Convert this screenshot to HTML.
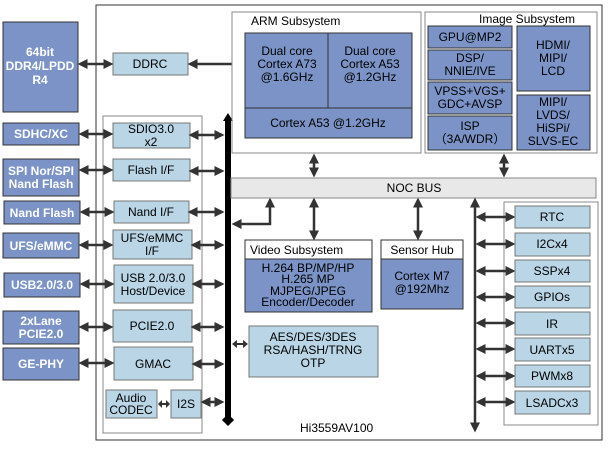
<!DOCTYPE html>
<html><head><meta charset="utf-8"><style>
body{margin:0;background:#fff}
svg{display:block}
text{font-family:"Liberation Sans",sans-serif;font-size:12px;fill:#000}
.w{fill:#fff;font-weight:bold;font-size:12px}
.d{fill:#7b93c6;stroke:#333;stroke-width:1}
.l{fill:#b9d5e6;stroke:#777;stroke-width:1}
.g{fill:none;stroke:#888;stroke-width:1}
.a{stroke:#333;stroke-width:2.5;fill:none}
</style></head><body>
<svg width="612" height="459" viewBox="0 0 612 459">
<defs>
<marker id="m" markerWidth="4" markerHeight="4" refX="3" refY="2" orient="auto-start-reverse" markerUnits="strokeWidth"><path d="M0,0 L4,2 L0,4 Z" fill="#333"/></marker>
</defs>
<rect x="96" y="5" width="506" height="435" fill="none" stroke="#333"/>
<rect class="d" x="3" y="22" width="75" height="90"/>
<text class="w" x="40" y="56" text-anchor="middle">64bit</text>
<text class="w" x="40" y="70" text-anchor="middle">DDR4/LPDD</text>
<text class="w" x="40" y="84" text-anchor="middle">R4</text>
<rect class="d" x="3" y="123" width="76" height="22"/><text class="w" x="41" y="138" text-anchor="middle">SDHC/XC</text>
<rect class="d" x="3" y="159" width="76" height="37"/><text class="w" x="41" y="175" text-anchor="middle">SPI Nor/SPI</text><text class="w" x="41" y="188" text-anchor="middle">Nand Flash</text>
<rect class="d" x="4" y="201" width="76" height="23"/><text class="w" x="42" y="217" text-anchor="middle">Nand Flash</text>
<rect class="d" x="3" y="233" width="76" height="25"/><text class="w" x="41" y="250" text-anchor="middle">UFS/eMMC</text>
<rect class="d" x="4" y="273" width="76" height="24"/><text class="w" x="42" y="289" text-anchor="middle">USB2.0/3.0</text>
<rect class="d" x="3" y="311" width="76" height="33"/><text class="w" x="41" y="325" text-anchor="middle">2xLane</text><text class="w" x="41" y="338" text-anchor="middle">PCIE2.0</text>
<rect class="d" x="3" y="348" width="76" height="32"/><text class="w" x="41" y="368" text-anchor="middle">GE-PHY</text>
<rect class="l" x="113" y="53" width="75" height="22"/><text x="150" y="68" text-anchor="middle">DDRC</text>
<rect class="g" x="103" y="116" width="99" height="317"/>
<rect class="l" x="113" y="123" width="77" height="25"/><text x="151" y="133" text-anchor="middle">SDIO3.0</text><text x="151" y="146" text-anchor="middle">x2</text>
<rect class="l" x="113" y="159" width="77" height="22"/><text x="151" y="174" text-anchor="middle">Flash I/F</text>
<rect class="l" x="114" y="201" width="75" height="22"/><text x="151" y="216" text-anchor="middle">Nand I/F</text>
<rect class="l" x="113" y="230" width="79" height="29"/><text x="152" y="242" text-anchor="middle">UFS/eMMC</text><text x="152" y="255" text-anchor="middle">I/F</text>
<rect class="l" x="114" y="265" width="79" height="38"/><text x="153" y="282" text-anchor="middle">USB 2.0/3.0</text><text x="153" y="295" text-anchor="middle">Host/Device</text>
<rect class="l" x="113" y="310" width="79" height="32"/><text x="152" y="330" text-anchor="middle">PCIE2.0</text>
<rect class="l" x="114" y="347" width="79" height="33"/><text x="153" y="368" text-anchor="middle">GMAC</text>
<rect class="l" x="106" y="390" width="51" height="28"/><text x="131" y="402" text-anchor="middle" font-size="11">Audio</text><text x="131" y="414" text-anchor="middle" font-size="11">CODEC</text>
<rect class="l" x="171" y="390" width="30" height="28"/><text x="186" y="408" text-anchor="middle">I2S</text>
<rect x="225" y="120" width="6" height="300" fill="#000"/>
<path d="M228,113 L233,121 L223,121 Z" fill="#000"/>
<path d="M228,426 L234,420 L228,414 L222,420 Z" fill="#000"/>
<g class="a" marker-start="url(#m)" marker-end="url(#m)">
<line x1="80" y1="64" x2="111" y2="64"/>
<line x1="81" y1="134" x2="111" y2="134"/><line x1="191" y1="135" x2="222" y2="135"/>
<line x1="81" y1="170" x2="111" y2="170"/><line x1="191" y1="171" x2="222" y2="171"/>
<line x1="82" y1="212" x2="112" y2="212"/><line x1="190" y1="212" x2="222" y2="212"/>
<line x1="81" y1="245" x2="111" y2="245"/><line x1="193" y1="245" x2="222" y2="245"/>
<line x1="82" y1="284" x2="112" y2="284"/><line x1="194" y1="284" x2="222" y2="284"/>
<line x1="81" y1="327" x2="111" y2="327"/><line x1="193" y1="327" x2="222" y2="327"/>
<line x1="81" y1="363" x2="112" y2="363"/><line x1="194" y1="364" x2="222" y2="364"/>
<line x1="203" y1="402" x2="222" y2="402"/>
<line x1="314" y1="156" x2="314" y2="175"/><line x1="504" y1="156" x2="504" y2="175"/>
<line x1="314" y1="200" x2="314" y2="238"/><line x1="418" y1="200" x2="418" y2="238"/>
<path d="M234,224 L270,224 L270,200"/>
</g>
<path d="M158,404 L162,400 L162,403 L166,403 L166,400 L170,404 L166,408 L166,405 L162,405 L162,408 Z" fill="#333"/>
<path d="M232,344 L237,340 L237,343 L243,343 L243,340 L248,344 L243,348 L243,345 L237,345 L237,348 Z" fill="#333"/>
<g class="a" marker-start="url(#m)"><line x1="190" y1="64" x2="232" y2="64"/></g>
<rect class="g" x="232" y="12" width="189" height="141"/>
<text x="251" y="25">ARM Subsystem</text>
<rect class="d" x="245" y="33" width="167" height="105"/>
<line x1="328" y1="33" x2="328" y2="108" stroke="#333"/><line x1="245" y1="108" x2="412" y2="108" stroke="#333"/>
<text x="287" y="55" text-anchor="middle">Dual core</text><text x="287" y="68" text-anchor="middle">Cortex A73</text><text x="287" y="81" text-anchor="middle">@1.6GHz</text>
<text x="370" y="55" text-anchor="middle">Dual core</text><text x="370" y="68" text-anchor="middle">Cortex A53</text><text x="370" y="81" text-anchor="middle">@1.2GHz</text>
<text x="328" y="127" text-anchor="middle">Cortex A53 @1.2GHz</text>
<rect class="g" x="425" y="12" width="172" height="141"/>
<text x="479" y="23">Image Subsystem</text>
<rect class="d" x="428" y="26" width="84" height="22"/><text x="470" y="41" text-anchor="middle">GPU@MP2</text>
<rect class="d" x="428" y="50" width="84" height="30"/><text x="470" y="62" text-anchor="middle">DSP/</text><text x="470" y="75" text-anchor="middle">NNIE/IVE</text>
<rect class="d" x="428" y="82" width="84" height="32"/><text x="470" y="95" text-anchor="middle">VPSS+VGS+</text><text x="470" y="108" text-anchor="middle">GDC+AVSP</text>
<rect class="d" x="428" y="116" width="84" height="34"/><text x="470" y="130" text-anchor="middle">ISP</text><text x="470" y="143" text-anchor="middle">（3A/WDR）</text>
<rect class="d" x="517" y="26" width="73" height="65"/><text x="553" y="49" text-anchor="middle">HDMI/</text><text x="553" y="62" text-anchor="middle">MIPI/</text><text x="553" y="75" text-anchor="middle">LCD</text>
<rect class="d" x="517" y="95" width="73" height="55"/><text x="553" y="106" text-anchor="middle">MIPI/</text><text x="553" y="119" text-anchor="middle">LVDS/</text><text x="553" y="132" text-anchor="middle">HiSPi/</text><text x="553" y="145" text-anchor="middle">SLVS-EC</text>
<rect x="231" y="178" width="365" height="20" fill="#e8e8e8" stroke="#888"/>
<text x="414" y="192" text-anchor="middle">NOC BUS</text>
<rect x="245" y="240" width="127" height="72" fill="#fff" stroke="#333"/>
<rect class="d" x="245" y="259" width="127" height="53"/>
<text x="250" y="254">Video Subsystem</text>
<text x="308" y="272" text-anchor="middle" font-size="11">H.264 BP/MP/HP</text><text x="308" y="283" text-anchor="middle" font-size="11">H.265 MP</text><text x="308" y="295" text-anchor="middle" font-size="11">MJPEG/JPEG</text><text x="308" y="306" text-anchor="middle" font-size="11">Encoder/Decoder</text>
<rect x="381" y="240" width="82" height="69" fill="#fff" stroke="#333"/>
<rect class="d" x="381" y="259" width="82" height="50"/>
<text x="422" y="254" text-anchor="middle">Sensor Hub</text>
<text x="422" y="280" text-anchor="middle">Cortex M7</text><text x="422" y="293" text-anchor="middle">@192Mhz</text>
<rect class="l" x="249" y="326" width="129" height="51"/>
<text x="313" y="341" text-anchor="middle">AES/DES/3DES</text><text x="313" y="354" text-anchor="middle">RSA/HASH/TRNG</text><text x="313" y="367" text-anchor="middle">OTP</text>
<text x="300" y="432">Hi3559AV100</text>
<g class="a" marker-start="url(#m)" marker-end="url(#m)"><line x1="475" y1="200" x2="475" y2="430"/></g>
<rect class="g" x="504" y="202" width="94" height="223"/>
<g class="a" marker-start="url(#m)" marker-end="url(#m)">
<line x1="478" y1="217" x2="513" y2="217"/><line x1="478" y1="244" x2="513" y2="244"/><line x1="478" y1="271" x2="513" y2="271"/><line x1="478" y1="297" x2="513" y2="297"/><line x1="478" y1="323" x2="513" y2="323"/><line x1="478" y1="349" x2="513" y2="349"/><line x1="478" y1="376" x2="513" y2="376"/><line x1="478" y1="402" x2="513" y2="402"/>
</g>
<rect class="l" x="515" y="206" width="75" height="22"/><text x="552" y="221" text-anchor="middle">RTC</text>
<rect class="l" x="515" y="233" width="75" height="23"/><text x="552" y="248" text-anchor="middle">I2Cx4</text>
<rect class="l" x="515" y="260" width="75" height="22"/><text x="552" y="275" text-anchor="middle">SSPx4</text>
<rect class="l" x="515" y="286" width="75" height="22"/><text x="552" y="301" text-anchor="middle">GPIOs</text>
<rect class="l" x="515" y="312" width="75" height="23"/><text x="552" y="328" text-anchor="middle">IR</text>
<rect class="l" x="515" y="338" width="75" height="23"/><text x="552" y="354" text-anchor="middle">UARTx5</text>
<rect class="l" x="515" y="365" width="75" height="22"/><text x="552" y="380" text-anchor="middle">PWMx8</text>
<rect class="l" x="515" y="391" width="75" height="23"/><text x="552" y="407" text-anchor="middle">LSADCx3</text>
</svg>
</body></html>
